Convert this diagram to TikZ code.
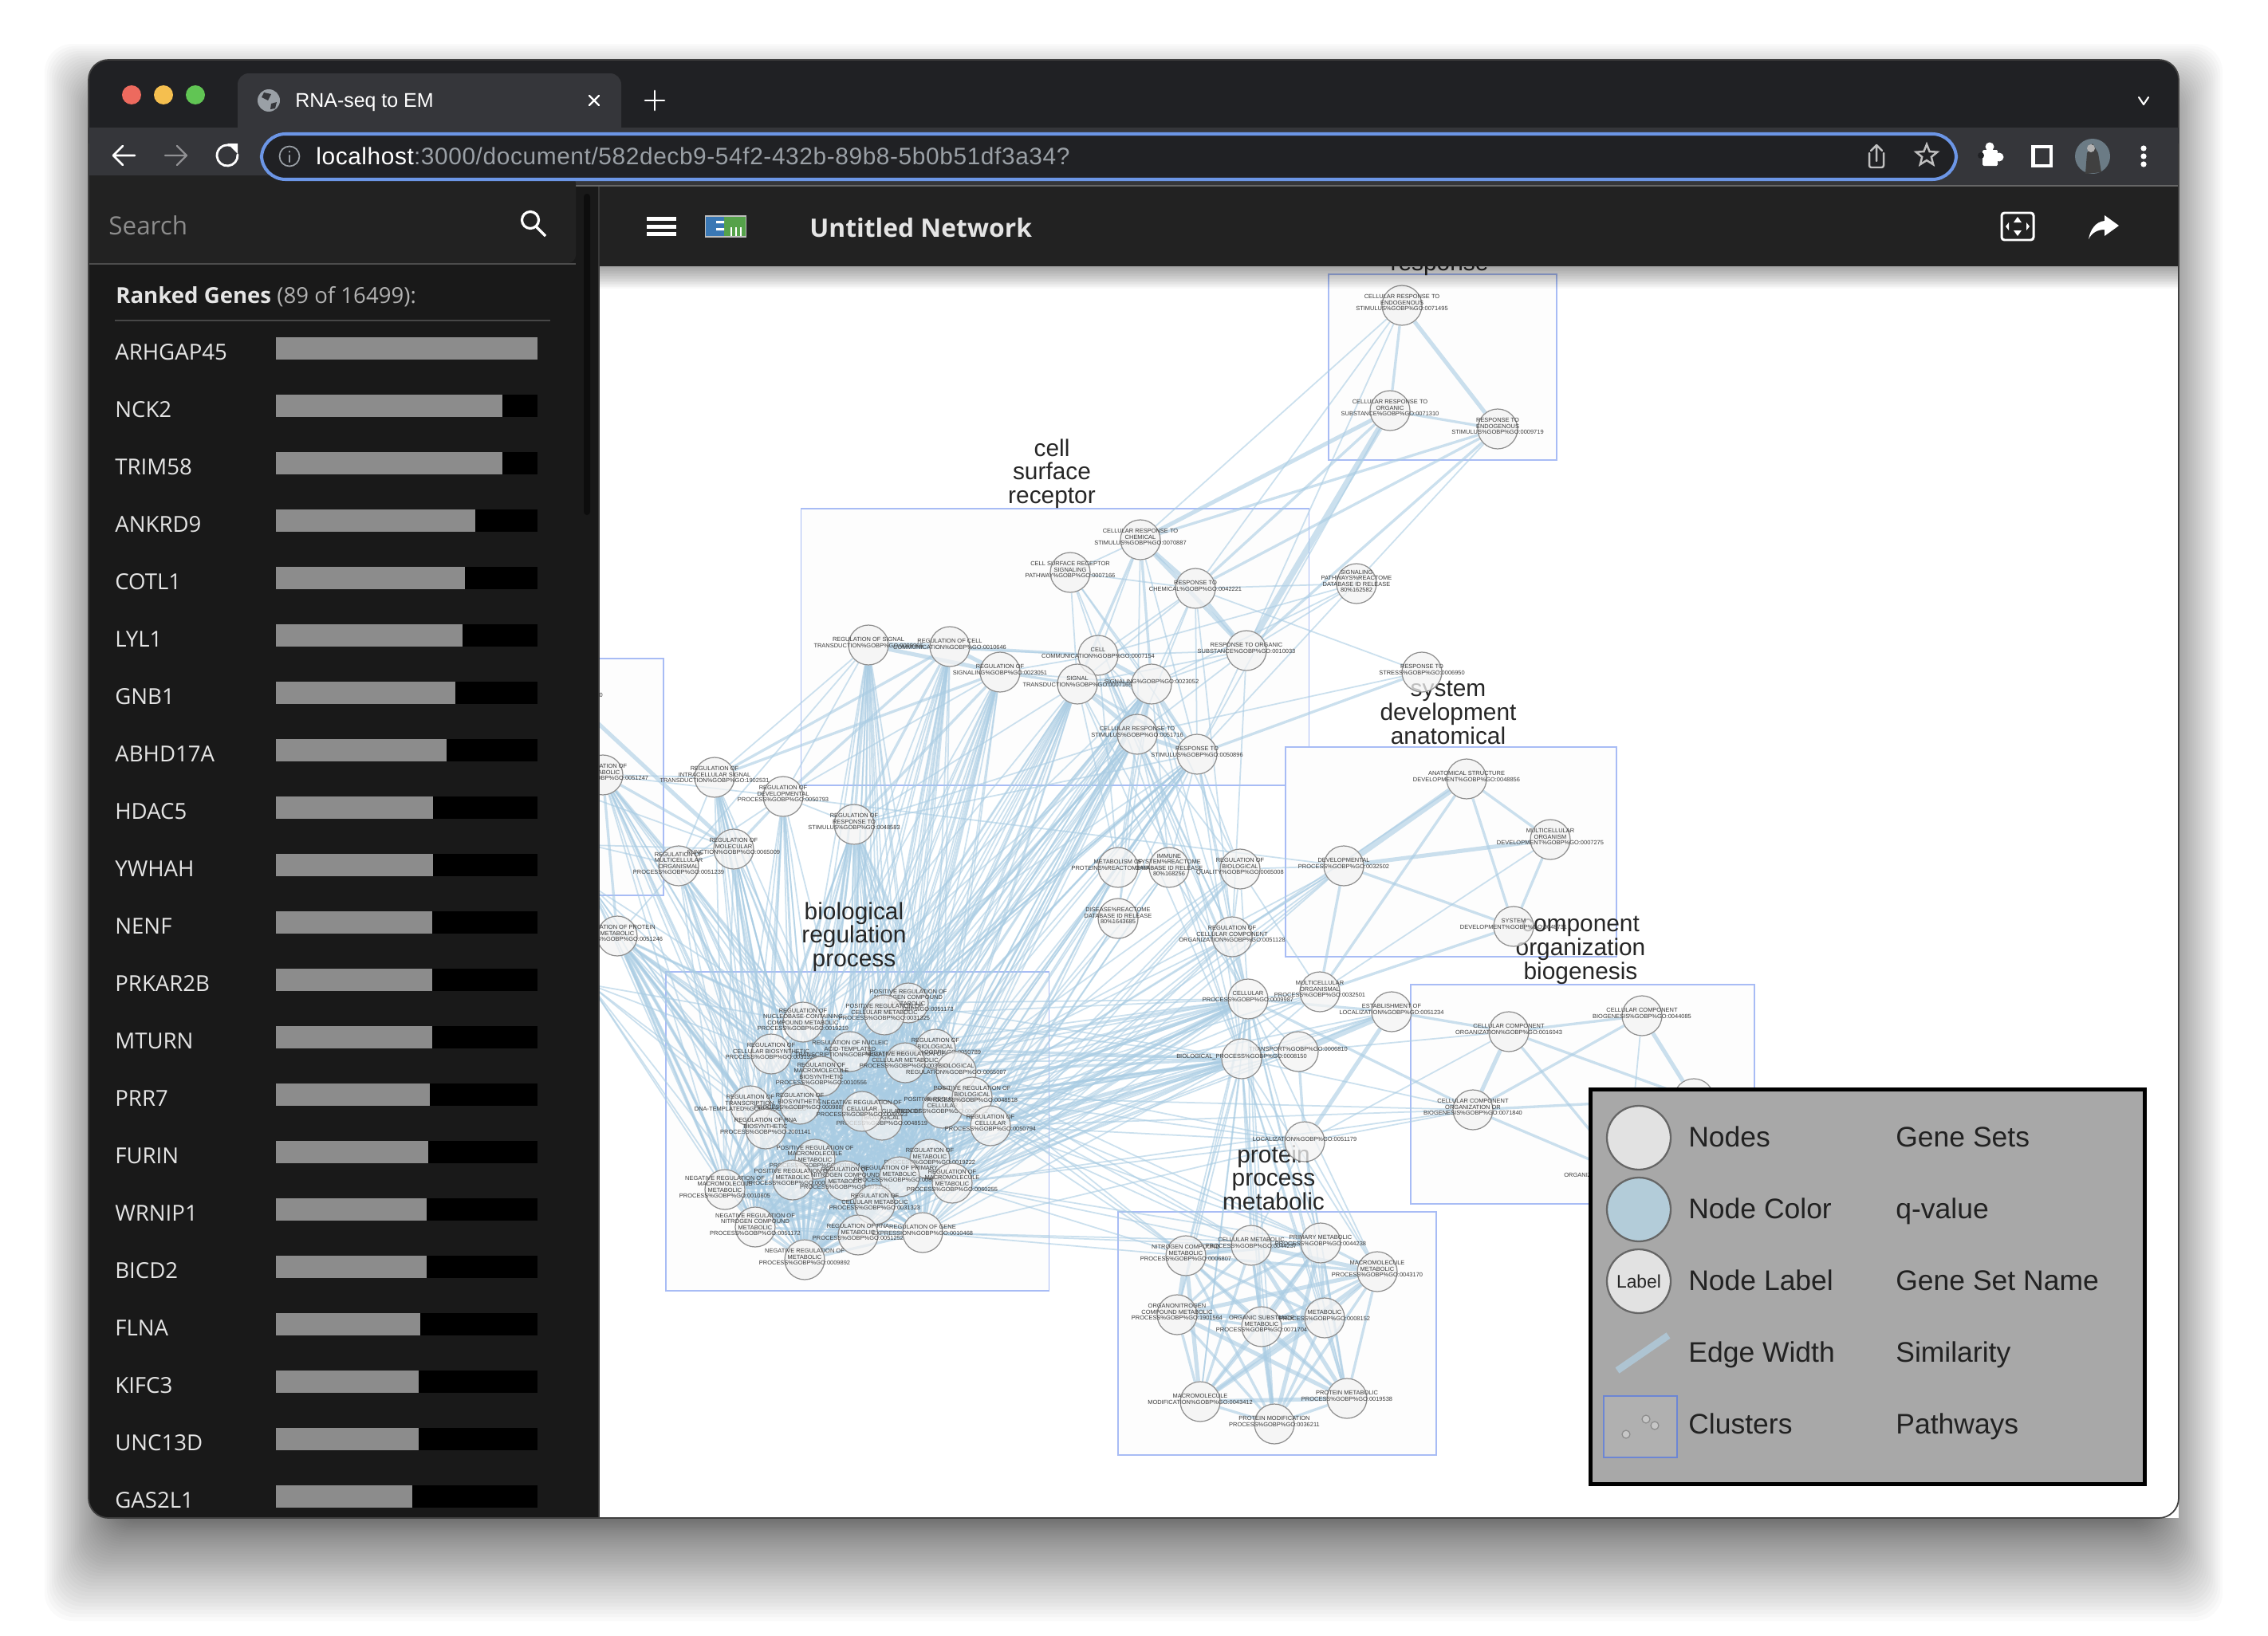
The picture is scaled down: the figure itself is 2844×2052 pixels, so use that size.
\documentclass[tikz,border=0pt]{standalone}
\usepackage{fontspec}
\setmainfont{Liberation Sans}
\newfontfamily\appfont{Open Sans}
\usetikzlibrary{shapes.geometric}
\pgfdeclarelayer{clusters}\pgfdeclarelayer{edges}\pgfdeclarelayer{labels}\pgfdeclarelayer{chrome}
\pgfsetlayers{clusters,edges,labels,main,chrome}
\definecolor{tabbar}{HTML}{202124}
\definecolor{toolbar}{HTML}{35363A}
\definecolor{urlblue}{HTML}{6C96E6}
\definecolor{urlgrey}{HTML}{9AA0A6}
\definecolor{sidebg}{HTML}{191919}
\definecolor{headbg}{HTML}{222222}
\definecolor{edgeblue}{HTML}{A9CCE3}
\definecolor{clusterline}{HTML}{A8BCF5}
\definecolor{clusterfill}{HTML}{FDFDFD}
\definecolor{nodefill}{HTML}{F3F3F3}
\definecolor{nodeline}{HTML}{8F8F8F}
\definecolor{nodetext}{HTML}{3A3A3A}
\definecolor{legendfill}{HTML}{A8A8A8}
\definecolor{legendtext}{HTML}{222222}
\definecolor{barfill}{HTML}{8C8C8C}
\definecolor{legnode}{HTML}{E2E2E2}
\definecolor{legblue}{HTML}{B3CCD9}
\definecolor{legedge}{HTML}{AEC4D2}
\definecolor{legbox}{HTML}{6C86D4}
\definecolor{legboxfill}{HTML}{B0B0B0}
\definecolor{lightred}{HTML}{ED6A5E}
\definecolor{lightyellow}{HTML}{F5BF4F}
\definecolor{lightgreen}{HTML}{61C554}
\definecolor{logoblue}{HTML}{3A78B5}
\definecolor{logogreen}{HTML}{55A24A}
\definecolor{avatarbg}{HTML}{6B7B85}
\newcommand\gb{\%GOBP\%GO:}
\newcommand\nlab[1]{\makebox[0pt]{\smash{\begin{tabular}[c]{@{}c@{}}#1\end{tabular}}}}
\newcommand\gs[4]{\node[gsnode] (#1) at (#2,#3) {\nlab{#4}};}
\tikzset{
  x=0.02cm,y=-0.02cm,
  gsnode/.style={circle,draw=nodeline,line width=0.7pt,fill=nodefill,fill opacity=.75,text opacity=1,
    minimum size=1cm,inner sep=0pt,text=nodetext,font=\fontsize{4.25}{4.25}\selectfont},
  e1/.style={draw=edgeblue,draw opacity=.6,line width=1pt},
  e2/.style={draw=edgeblue,draw opacity=.6,line width=1.9pt},
  e3/.style={draw=edgeblue,draw opacity=.6,line width=2.9pt},
  e4/.style={draw=edgeblue,draw opacity=.6,line width=4.4pt},
  clusterbox/.style={draw=clusterline,fill=clusterfill,line width=0.9pt},
  clab/.style={align=center,inner sep=0pt,text=black!85,font=\fontsize{17}{16.84}\selectfont},
  legtext/.style={anchor=base west,inner sep=0pt,text=legendtext,font=\fontsize{20.2}{22}\selectfont},
  legcircle/.style={circle,draw=black!60,line width=1.3pt,minimum size=1.6cm,inner sep=0pt},
  genetext/.style={anchor=base west,inner sep=0pt,text=white!90!black,font=\appfont\fontsize{15.7}{18}\selectfont},
  iconline/.style={draw=white,line width=1.6pt,line cap=round,line join=round},
  greyline/.style={draw=urlgrey,line width=1.4pt,line cap=round,line join=round},
}
\begin{document}
\begin{tikzpicture}
\useasboundingbox (0,0) rectangle (2844,2052);

% ---------- nodes of the network ----------
% bio-regulation cluster
\gs{b1}{1139}{1258}{POSITIVE REGULATION OF\\NITROGEN COMPOUND\\METABOLIC\\PROCESS\gb 0051173}
\gs{b2}{1109}{1273}{POSITIVE REGULATION OF\\CELLULAR METABOLIC\\PROCESS\gb 0031325}
\gs{b3}{1007}{1282}{REGULATION OF\\NUCLEOBASE-CONTAINING\\COMPOUND METABOLIC\\PROCESS\gb 0019219}
\gs{b4}{967}{1322}{REGULATION OF\\CELLULAR BIOSYNTHETIC\\PROCESS\gb 0031326}
\gs{b5}{1066}{1319}{REGULATION OF NUCLEIC\\ACID-TEMPLATED\\TRANSCRIPTION\gb 1903506}
\gs{b6}{1173}{1316}{REGULATION OF\\BIOLOGICAL\\PROCESS\gb 0050789}
\gs{b7}{1135}{1333}{NEGATIVE REGULATION OF\\CELLULAR METABOLIC\\PROCESS\gb 0031324}
\gs{b8}{1199}{1344}{BIOLOGICAL\\REGULATION\gb 0065007}
\gs{b9}{1030}{1350}{REGULATION OF\\MACROMOLECULE\\BIOSYNTHETIC\\PROCESS\gb 0010556}
\gs{b10}{941}{1387}{REGULATION OF\\TRANSCRIPTION,\\DNA-TEMPLATED\gb 0006355}
\gs{b11}{1003}{1385}{REGULATION OF\\BIOSYNTHETIC\\PROCESS\gb 0009889}
\gs{b12}{960}{1416}{REGULATION OF RNA\\BIOSYNTHETIC\\PROCESS\gb 2001141}
\gs{b14}{1106}{1405}{NEGATIVE REGULATION OF\\BIOLOGICAL\\PROCESS\gb 0048519}
\gs{b13}{1081}{1394}{NEGATIVE REGULATION OF\\CELLULAR\\PROCESS\gb 0048523}
\gs{b15}{1182}{1390}{POSITIVE REGULATION OF\\CELLULAR\\PROCESS\gb 0048522}
\gs{b16}{1219}{1376}{POSITIVE REGULATION OF\\BIOLOGICAL\\PROCESS\gb 0048518}
\gs{b17}{1242}{1412}{REGULATION OF\\CELLULAR\\PROCESS\gb 0050794}
\gs{b22}{1166}{1454}{REGULATION OF\\METABOLIC\\PROCESS\gb 0019222}
\gs{b18}{1022}{1454}{POSITIVE REGULATION OF\\MACROMOLECULE\\METABOLIC\\PROCESS\gb 0010604}
\gs{b19}{994}{1480}{POSITIVE REGULATION OF\\METABOLIC\\PROCESS\gb 0009893}
\gs{b20}{1060}{1481}{REGULATION OF\\NITROGEN COMPOUND\\METABOLIC\\PROCESS\gb 0051171}
\gs{b21}{1128}{1476}{REGULATION OF PRIMARY\\METABOLIC\\PROCESS\gb 0080090}
\gs{b23}{1194}{1484}{REGULATION OF\\MACROMOLECULE\\METABOLIC\\PROCESS\gb 0060255}
\gs{b24}{909}{1492}{NEGATIVE REGULATION OF\\MACROMOLECULE\\METABOLIC\\PROCESS\gb 0010605}
\gs{b25}{1097}{1511}{REGULATION OF\\CELLULAR METABOLIC\\PROCESS\gb 0031323}
\gs{b26}{947}{1539}{NEGATIVE REGULATION OF\\NITROGEN COMPOUND\\METABOLIC\\PROCESS\gb 0051172}
\gs{b27}{1076}{1549}{REGULATION OF RNA\\METABOLIC\\PROCESS\gb 0051252}
\gs{b28}{1157}{1546}{REGULATION OF GENE\\EXPRESSION\gb 0010468}
\gs{b29}{1009}{1580}{NEGATIVE REGULATION OF\\METABOLIC\\PROCESS\gb 0009892}
% response cluster
\gs{cre}{1758}{383}{CELLULAR RESPONSE TO\\ENDOGENOUS\\STIMULUS\gb 0071495}
\gs{cro}{1743}{515}{CELLULAR RESPONSE TO\\ORGANIC\\SUBSTANCE\gb 0071310}
\gs{ren}{1878}{538}{RESPONSE TO\\ENDOGENOUS\\STIMULUS\gb 0009719}
% cell surface receptor cluster
\gs{crc}{1430}{677}{CELLULAR RESPONSE TO\\CHEMICAL\\STIMULUS\gb 0070887}
\gs{css}{1342}{718}{CELL SURFACE RECEPTOR\\SIGNALING\\PATHWAY\gb 0007166}
\gs{rch}{1499}{738}{RESPONSE TO\\CHEMICAL\gb 0042221}
\gs{spw}{1701}{732}{SIGNALING\\PATHWAYS\%REACTOME\\DATABASE ID RELEASE\\80\%162582}
\gs{rst}{1089}{809}{REGULATION OF SIGNAL\\TRANSDUCTION\gb 0009966}
\gs{rcc}{1191}{811}{REGULATION OF CELL\\COMMUNICATION\gb 0010646}
\gs{rsg}{1254}{843}{REGULATION OF\\SIGNALING\gb 0023051}
\gs{cco}{1377}{822}{CELL\\COMMUNICATION\gb 0007154}
\gs{stx}{1351}{858}{SIGNAL\\TRANSDUCTION\gb 0007165}
\gs{sgn}{1444}{858}{SIGNALING\gb 0023052}
\gs{rog}{1563}{816}{RESPONSE TO ORGANIC\\SUBSTANCE\gb 0010033}
\gs{crs}{1426}{921}{CELLULAR RESPONSE TO\\STIMULUS\gb 0051716}
\gs{rsm}{1501}{946}{RESPONSE TO\\STIMULUS\gb 0050896}
\gs{rss}{1783}{843}{RESPONSE TO\\STRESS\gb 0006950}
% free-standing nodes
\gs{rmt}{756}{972}{REGULATION OF\\METABOLIC\\PROCESS\gb 0051247}
\gs{rin}{896}{975}{REGULATION OF\\INTRACELLULAR SIGNAL\\TRANSDUCTION\gb 1902531}
\gs{rdv}{982}{999}{REGULATION OF\\DEVELOPMENTAL\\PROCESS\gb 0050793}
\gs{rrs}{1071}{1034}{REGULATION OF\\RESPONSE TO\\STIMULUS\gb 0048583}
\gs{rmu}{851}{1086}{REGULATION OF\\MULTICELLULAR\\ORGANISMAL\\PROCESS\gb 0051239}
\gs{rmo}{920}{1065}{REGULATION OF\\MOLECULAR\\FUNCTION\gb 0065009}
\gs{rpm}{774}{1174}{REGULATION OF PROTEIN\\METABOLIC\\PROCESS\gb 0051246}
\gs{mop}{1402}{1088}{METABOLISM OF\\PROTEINS\%REACTOME\%R-HSA}
\gs{imm}{1466}{1088}{IMMUNE\\SYSTEM\%REACTOME\\DATABASE ID RELEASE\\80\%168256}
\gs{rbq}{1555}{1090}{REGULATION OF\\BIOLOGICAL\\QUALITY\gb 0065008}
\gs{dis}{1402}{1152}{DISEASE\%REACTOME\\DATABASE ID RELEASE\\80\%1643685}
\gs{rcm}{1545}{1175}{REGULATION OF\\CELLULAR COMPONENT\\ORGANIZATION\gb 0051128}
% anatomical cluster
\gs{asd}{1839}{977}{ANATOMICAL STRUCTURE\\DEVELOPMENT\gb 0048856}
\gs{dev}{1685}{1086}{DEVELOPMENTAL\\PROCESS\gb 0032502}
\gs{mod}{1944}{1053}{MULTICELLULAR\\ORGANISM\\DEVELOPMENT\gb 0007275}
\gs{sys}{1898}{1162}{SYSTEM\\DEVELOPMENT\gb 0048731}
% middle
\gs{cel}{1565}{1253}{CELLULAR\\PROCESS\gb 0009987}
\gs{mcp}{1655}{1244}{MULTICELLULAR\\ORGANISMAL\\PROCESS\gb 0032501}
\gs{est}{1745}{1269}{ESTABLISHMENT OF\\LOCALIZATION\gb 0051234}
\gs{trn}{1628}{1319}{TRANSPORT\gb 0006810}
\gs{bio}{1557}{1328}{BIOLOGICAL\_PROCESS\gb 0008150}
\gs{loc}{1636}{1432}{LOCALIZATION\gb 0051179}
% component cluster
\gs{cog}{1892}{1294}{CELLULAR COMPONENT\\ORGANIZATION\gb 0016043}
\gs{cbg}{2059}{1274}{CELLULAR COMPONENT\\BIOGENESIS\gb 0044085}
\gs{cob}{1847}{1392}{CELLULAR COMPONENT\\ORGANIZATION OR\\BIOGENESIS\gb 0071840}
\gs{hid}{2124}{1378}{}
\gs{ogz}{2040}{1474}{}
\node[inner sep=0pt,anchor=west,text=nodetext,font=\fontsize{4.25}{4.25}\selectfont] (ogzt) at (1961,1474) {ORGANIZATION};
% metabolic cluster
\gs{m1}{1487}{1575}{NITROGEN COMPOUND\\METABOLIC\\PROCESS\gb 0006807}
\gs{m2}{1569}{1562}{CELLULAR METABOLIC\\PROCESS\gb 0044237}
\gs{m3}{1656}{1559}{PRIMARY METABOLIC\\PROCESS\gb 0044238}
\gs{m4}{1727}{1595}{MACROMOLECULE\\METABOLIC\\PROCESS\gb 0043170}
\gs{m5}{1476}{1649}{ORGANONITROGEN\\COMPOUND METABOLIC\\PROCESS\gb 1901564}
\gs{m6}{1582}{1664}{ORGANIC SUBSTANCE\\METABOLIC\\PROCESS\gb 0071704}
\gs{m7}{1661}{1653}{METABOLIC\\PROCESS\gb 0008152}
\gs{m8}{1505}{1758}{MACROMOLECULE\\MODIFICATION\gb 0043412}
\gs{m9}{1598}{1786}{PROTEIN MODIFICATION\\PROCESS\gb 0036211}
\gs{m10}{1689}{1754}{PROTEIN METABOLIC\\PROCESS\gb 0019538}
\node[inner sep=0pt,anchor=east,text=nodetext,font=\fontsize{4.25}{4.25}\selectfont] (tailz) at (756,872) {0};
% free ends hidden under the side bar
\coordinate (offa) at (740,898);
\coordinate (offb) at (740,1060);
\coordinate (offc) at (740,1110);
\coordinate (offd) at (740,1235);
\coordinate (offe) at (740,1000);

% ---------- cluster boxes, window face ----------
\begin{pgfonlayer}{clusters}
  \foreach \s in {1,...,40}{
    \pgfmathsetmacro\ee{100*(\s/40)^1.5}
    \fill[black,opacity=.018,rounded corners=0.7cm]
      ({111+25-.8*\ee},{75+60-.8*\ee}) rectangle ({2732-25+.8*\ee},{1908+1.25*\ee});
  }
  \fill[white] (752,234) rectangle (2732,1904);
  \draw[clusterbox] (1666,344) rectangle (1952,577);
  \draw[clusterbox] (1004.5,638) rectangle (1641.5,985);
  \draw[clusterbox] (700,826) rectangle (832,1123);
  \draw[clusterbox] (1612,937) rectangle (2027,1200);
  \draw[clusterbox] (835,1219) rectangle (1315.5,1619);
  \draw[clusterbox] (1769,1235) rectangle (2200,1510);
  \draw[clusterbox] (1402,1520) rectangle (1801,1825);
\end{pgfonlayer}

% ---------- cluster captions ----------
\begin{pgfonlayer}{labels}
  \node[clab,anchor=base] (lresp) at (1805,339) {response};
  \node[clab] (lcsr) at (1319,594) {cell\\surface\\receptor};
  \node[clab] (lsys) at (1816,894) {system\\development\\anatomical};
  \node[clab] (lbio) at (1071,1175) {biological\\regulation\\process};
  \node[clab] (lcomp) at (1982,1192) {component\\organization\\biogenesis};
  \node[clab] (lprot) at (1597,1477) {protein\\process\\metabolic};
\end{pgfonlayer}

% ---------- edges ----------
\begin{pgfonlayer}{edges}
  % inside bio-regulation cluster
  \foreach \pa in {1,...,28}{
    \pgfmathtruncatemacro\pk{\pa+1}
    \foreach \pb in {\pk,...,29}{
      \pgfmathtruncatemacro\pm{mod(\pa*\pb+\pa,3)}
      \ifnum\pm=0 \draw[e2] (b\pa) -- (b\pb); \else \draw[e1] (b\pa) -- (b\pb); \fi
    }
  }
  % bio-regulation fans
  \foreach \pa in {1,2,3,5,7,9,11,13,14,15,18,20,21,22,25,27}{
    \foreach \pt in {rst,rcc,rsg,stx,sgn,crs,rsm}{\draw[e1] (b\pa) -- (\pt);}
  }
  \foreach \pa in {1,...,29}{\draw[e1] (b\pa) -- (rrs);}
  \foreach \pa in {1,2,5,7,13,14,20,21,25,27,28}{\foreach \pt in {cel,bio}{\draw[e1] (b\pa) -- (\pt);}}
  \foreach \pa in {6,8,15,16,17,22,23}{\foreach \pt in {cel,bio}{\draw[e2] (b\pa) -- (\pt);}}
  \foreach \pa in {3,4,9,10,11,12,13,18,19,24,26,29}{
    \foreach \pt in {rin,rdv,rmo,rmu,rmt,rpm}{\draw[e1] (b\pa) -- (\pt);}
  }
  \foreach \pa in {3,4,10,12,24,26,29}{\draw[e2] (b\pa) -- (rpm); \draw[e1] (b\pa) -- (offd); \draw[e1] (b\pa) -- (offc);}
  \foreach \pa in {8,16,17,23,28}{
    \foreach \pt in {rcm,rbq,mop,loc,m1,m2,m3,dev}{\draw[e1] (b\pa) -- (\pt);}
  }
  \foreach \pa in {16,17,23}{\foreach \pt in {dis,imm,trn,mcp,est,cob}{\draw[e1] (b\pa) -- (\pt);}}
  % response cluster
  \draw[e3] (cre) -- (ren);
  \draw[e2] (cre) -- (cro);
  \draw[e2] (cro) -- (ren);
  \foreach \pa/\pb in {cre/crc,cre/rch,cre/rog,cro/rsm,ren/rsm}{\draw[e1] (\pa) -- (\pb);}
  \foreach \pa/\pb in {ren/crc,ren/rch,ren/rog,cro/rch}{\draw[e2] (\pa) -- (\pb);}
  \draw[e3] (cro) -- (crc);
  \draw[e4] (cro) -- (rog);
  % surface cluster
  \foreach \pa/\pb in {crc/rch,rch/rog}{\draw[e3] (\pa) -- (\pb);}
  \draw[e3] (crc) -- (rog);
  \draw[e4] (rst) -- (rcc);
  \foreach \pa/\pb in {rst/rsg,rcc/rsg,cco/stx,cco/sgn,stx/sgn,stx/crs,sgn/crs,crs/rsm}{\draw[e3] (\pa) -- (\pb);}
  \foreach \pa/\pb in {rcc/cco,rsg/stx,stx/rsm,sgn/rsm,rsm/rss,crc/stx,crc/sgn,rrs/rst,rrs/rcc,rrs/rsg,rin/rcc,rin/rsg,rdv/rcc}{\draw[e2] (\pa) -- (\pb);}
  \foreach \pa/\pb in {crc/css,crc/cco,crc/crs,crc/rsm,css/rch,css/cco,css/stx,css/sgn,css/crs,css/rsm,rch/cco,rch/stx,rch/sgn,rch/crs,rch/rsm,rog/rsm,rog/cco,rog/sgn,rog/stx,rog/crs,rst/cco,rsg/cco,rsg/sgn,cco/crs,cco/rsm,spw/rch,spw/rog,spw/cco,spw/sgn,rch/rss,crs/rss,rin/rst,rdv/rsg,rrs/stx,rrs/crs,rrs/rsm,rdv/rst}{\draw[e1] (\pa) -- (\pb);}
  % bundles from surface cluster downward
  \foreach \pa in {cco,stx,sgn,crs,rsm}{\foreach \pb in {cel,bio,mop}{\draw[e1] (\pa) -- (\pb);}}
  \foreach \pa/\pb in {imm/sgn,imm/rsm,imm/crs,imm/mop,rbq/rsm,rbq/crs,dis/sgn,dis/crs,dis/rsm,rcm/rsm,rcm/crs,rcm/cco,rbq/sgn,rch/rcm,rog/rcm}{\draw[e1] (\pa) -- (\pb);}
  % left part
  \draw[e3] (offa) -- (rmo);
  \foreach \pa/\pb in {rmt/rmo,rmt/rpm,rmo/rin,rmo/rdv,rmt/rmu}{\draw[e2] (\pa) -- (\pb);}
  \foreach \pa/\pb in {rmo/rmu,rmu/rdv,rmu/rin,rmt/rin,offb/rmu,offe/rmo,offb/rmo,rmu/rpm,rdv/rrs,rdv/rmt,rmu/rst}{\draw[e1] (\pa) -- (\pb);}
  % anatomical cluster
  \draw[e4] (dev) -- (asd);
  \draw[e3] (dev) -- (mod);
  \foreach \pa/\pb in {asd/mod,asd/sys,dev/sys,mod/sys,mcp/dev,mcp/asd,mcp/sys}{\draw[e2] (\pa) -- (\pb);}
  \foreach \pa/\pb in {mcp/mod,dev/rcm,cel/mcp,rdv/dev,dev/rbq,rcm/asd}{\draw[e1] (\pa) -- (\pb);}
  % middle and component cluster
  \draw[e4] (est) -- (trn);
  \draw[e3] (est) -- (loc);
  \draw[e3] (cog) -- (cob);
  \draw[e3] (cbg) -- (hid);
  \foreach \pa/\pb in {cel/rcm,cel/bio,trn/loc,est/cog,cog/cbg,cog/hid,cog/ogz,cob/ogz,cob/hid,cob/cbg,cel/cob,cel/est}{\draw[e2] (\pa) -- (\pb);}
  \foreach \pa/\pb in {bio/rcm,rbq/cel,rbq/rcm,cbg/ogz,loc/cob,loc/cog,trn/cog,bio/cob,bio/trn,bio/est,cel/trn,mcp/bio,rbq/mcp,imm/cel}{\draw[e1] (\pa) -- (\pb);}
  % metabolic fans
  \foreach \pa in {1,...,9}{
    \pgfmathtruncatemacro\pk{\pa+1}
    \foreach \pb in {\pk,...,10}{
      \pgfmathtruncatemacro\pm{mod(\pa+\pb,3)}
      \ifnum\pm=0 \draw[e3] (m\pa) -- (m\pb); \else \draw[e2] (m\pa) -- (m\pb); \fi
    }
  }
  \foreach \pa in {1,...,10}{\draw[e1] (m\pa) -- (cel); \draw[e1] (m\pa) -- (bio);}
  \foreach \pa in {2,3,4,7,10}{\draw[e1] (m\pa) -- (loc);}
\end{pgfonlayer}

% ---------- browser window, side bar, legend ----------
\begin{pgfonlayer}{chrome}
  \begin{scope}
    \clip[rounded corners=0.5cm] (111,75) rectangle (2732,1904);
    \fill[tabbar] (111,75) rectangle (2732,160);
    \fill[toolbar] (111,160) rectangle (2732,232);
    \fill[black!60] (111,232) rectangle (2732,234.5);
    % side bar
    \fill[sidebg] (111,234) rectangle (752,1904);
    \fill[black!78] (750,234) rectangle (752,1904);
    \fill[headbg,rounded corners=0.2cm] (100,220) rectangle (722,330);
    \fill[black!70] (111,330) rectangle (722,332);
    \fill[black!95,rounded corners=0.08cm] (732,243) rectangle (740,646);
    % top bar and its shadow
    \foreach \s in {1,...,14}{\fill[black,opacity=.028] (752,334) rectangle (2732,{334+2*\s});}
    \fill[headbg] (752,234) rectangle (2732,334);
  \end{scope}
  \draw[black!75,line width=1pt,rounded corners=0.5cm] (111,75) rectangle (2732,1904);
  % tab
  \fill[toolbar,rounded corners=0.28cm] (298,92) rectangle (779,180);
  \fill[toolbar] (111,160) rectangle (2732,180);
  \fill[lightred] (165,119) circle (12);
  \fill[lightyellow] (205,119) circle (12);
  \fill[lightgreen] (245,119) circle (12);
  \path[fill=urlgrey] (337,126) circle (14);
  \fill[toolbar] (331,116) -- (340,118) -- (336,126) -- (328,122) -- cycle;
  \fill[toolbar] (340,130) -- (347,128) -- (345,136) -- (339,137) -- cycle;
  \node[inner sep=0pt,anchor=base west,text=white,font=\fontsize{14.2}{16}\selectfont] (tabtxt) at (370,134) {RNA-seq to EM};
  \draw[iconline,line width=1.3pt] (739,120) -- (751,132) (751,120) -- (739,132);
  \draw[iconline] (821,114) -- (821,138) (809,126) -- (833,126);
  % nav
  \draw[iconline] (169,195) -- (142,195) (154,183) -- (142,195) -- (154,207);
  \draw[greyline,draw=white!45!toolbar] (207,195) -- (234,195) (222,183) -- (234,195) -- (222,207);
  \draw[iconline] (285,195) ++(-5:13) arc (-5:285:13);
  \fill[white] (298,180) -- (298,193) -- (285,180) -- cycle;
  % address bar
  \draw[draw=urlblue,fill=tabbar,line width=2.3pt,rounded corners=0.6cm] (328,168) rectangle (2453,225);
  \draw[greyline,line width=1pt] (363,196) circle (12.5);
  \draw[greyline] (363,195) -- (363,203) (363,190) -- (363,190.5);
  \node[inner sep=0pt,anchor=base west,text=urlgrey,font=\addfontfeature{LetterSpace=2}\fontsize{17}{18}\selectfont] (url) at (396,206) {{\color{white}localhost}:3000/document/582decb9-54f2-432b-89b8-5b0b51df3a34?};
  % share, star
  \draw[greyline,draw=white!75!black,rounded corners=0.05cm] (2344,192) -- (2344,210) -- (2362,210) -- (2362,192);
  \draw[greyline,draw=white!75!black] (2353,202) -- (2353,182) (2346,189) -- (2353,182) -- (2360,189);
  \node[star,star points=5,star point ratio=2.3,draw=white!75!black,line width=1.4pt,minimum size=0.56cm,inner sep=0pt] (starico) at (2416,195) {};
  % puzzle, panel, avatar, kebab
  \fill[white,rounded corners=0.03cm] (2486,188) rectangle (2505,208);
  \fill[white] (2495,184) circle (5.5) (2507,197) circle (5.5);
  \fill[tabbar] (2484,195) circle (4);
  \draw[white,line width=2.6pt] (2549,184) rectangle (2572,208);
  \fill[white] (2549,184) rectangle (2552,208);
  \fill[avatarbg] (2624,196) circle (22);
  \fill[black!75] (2615,218) -- (2617,192) -- (2624,180) -- (2631,192) -- (2635,216) -- cycle;
  \fill[white!70!black] (2622,186) circle (5);
  \fill[white] (2688,186) circle (3.6) (2688,196) circle (3.6) (2688,206) circle (3.6);
  \draw[iconline,line width=1.2pt] (2682,122) -- (2688,131) -- (2694,122);
  % app top bar
  \fill[white] (811,272) rectangle (848,277);
  \fill[white] (811,282) rectangle (848,287);
  \fill[white] (811,291) rectangle (848,296);
  \fill[white!75!black] (884,270) rectangle (936,298);
  \fill[logoblue] (885,272) rectangle (908,296);
  \fill[logogreen] (908,272) rectangle (935,296);
  \fill[white] (898,277) rectangle (908,280) (898,286) rectangle (908,289);
  \draw[white,line width=0.6pt] (917,285) -- (917,296) (923,285) -- (923,296) (929,285) -- (929,296);
  \node[inner sep=0pt,anchor=base west,text=white!90!black,font=\appfont\bfseries\fontsize{18.1}{20}\selectfont] (title) at (1015,297) {Untitled Network};
  \draw[white,line width=1.7pt,rounded corners=0.07cm] (2510,267) rectangle (2550,301);
  \fill[white] (2530,272) -- (2525,279) -- (2535,279) -- cycle;
  \fill[white] (2530,296) -- (2525,289) -- (2535,289) -- cycle;
  \fill[white] (2515,284) -- (2519,279) -- (2519,289) -- cycle;
  \fill[white] (2545,284) -- (2541,279) -- (2541,289) -- cycle;
  \fill[white] (2639,270) -- (2657,283) -- (2639,296) -- (2639,288) .. controls (2630,288) and (2623,292) .. (2619,300) .. controls (2621,288) and (2628,278) .. (2639,277) -- cycle;
  % search
  \node[inner sep=0pt,anchor=base west,text=black!45,font=\appfont\fontsize{17.9}{20}\selectfont] (srch) at (136,294) {Search};
  \draw[white,line width=1.8pt] (665,276) circle (10.5);
  \draw[white,line width=2pt] (672,284) -- (684,296);
  % ranked genes
  \node[genetext] (rg) at (145,380) {\textbf{Ranked Genes} {\color{white!70!black}(89 of 16499):}};
  \fill[black!72] (144,401) rectangle (690,403);
  \foreach \gname/\gf [count=\gi from 0] in {ARHGAP45/1,NCK2/.867,TRIM58/.867,ANKRD9/.762,COTL1/.724,LYL1/.713,GNB1/.685,ABHD17A/.652,HDAC5/.602,YWHAH/.602,NENF/.599,PRKAR2B/.599,MTURN/.597,PRR7/.588,FURIN/.583,WRNIP1/.575,BICD2/.575,FLNA/.552,KIFC3/.546,UNC13D/.546,GAS2L1/.521}{
    \fill[black] (346,{423+72*\gi}) rectangle (674,{451+72*\gi});
    \fill[barfill] (346,{423+72*\gi}) rectangle ({346+328*\gf},{451+72*\gi});
    \node[genetext] (gene\gi) at (144,{451+72*\gi}) {\gname};
  }
  % legend
  \draw[black,line width=2.9pt,fill=legendfill] (1994.5,1366.5) rectangle (2689.5,1861.5);
  \node[legcircle,fill=legnode] (lega) at (2055,1427) {};
  \node[legcircle,fill=legblue] (legb) at (2055,1517) {};
  \node[legcircle,fill=legnode,text=black!85,font=\fontsize{13}{15}\selectfont] (legc) at (2055,1607) {Label};
  \draw[draw=legedge,line width=5pt] (2028,1719) -- (2092,1675);
  \node[rectangle,draw=legbox,fill=legboxfill,line width=1.1pt,minimum width=1.84cm,minimum height=1.54cm,inner sep=0pt] (legd) at (2057,1789.5) {};
  \foreach \cx/\cy [count=\ci] in {2064/1780,2075/1788,2039/1799}{
    \node[circle,draw=black!45,fill=white!78!black,line width=.7pt,minimum size=0.2cm,inner sep=0pt] (legdot\ci) at (\cx,\cy) {};
  }
  \foreach \ly/\lt/\lr [count=\li] in {1438/Nodes/Gene Sets,1528/Node Color/q-value,1618/Node Label/Gene Set Name,1708/Edge Width/Similarity,1798/Clusters/Pathways}{
    \node[legtext] (legl\li) at (2117,\ly) {\lt};
    \node[legtext] (legr\li) at (2377,\ly) {\lr};
  }
\end{pgfonlayer}
\end{tikzpicture}
\end{document}
